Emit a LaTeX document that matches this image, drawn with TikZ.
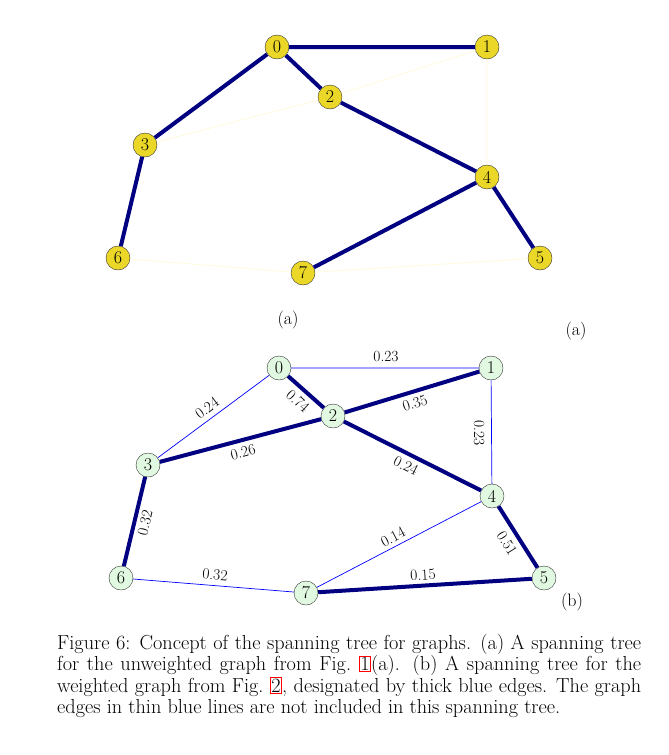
\documentclass[tikz,border=0pt]{standalone}
\usepackage{xcolor}
\definecolor{navy}{RGB}{0,0,128}
\definecolor{faint}{RGB}{255,250,220}
\definecolor{yel}{RGB}{235,215,40}
\definecolor{lgreen}{RGB}{225,248,225}
\begin{document}
\begin{tikzpicture}[x=1pt,y=-1pt,
  ya/.style={circle,draw=black!80,fill=yel,minimum size=24pt,inner sep=0pt,font=\fontsize{18}{18}\selectfont},
  gb/.style={circle,draw=black!80,fill=lgreen,minimum size=24pt,inner sep=0pt,font=\fontsize{18}{18}\selectfont},
  thk/.style={draw=navy,line width=4pt},
  thn/.style={draw=blue,line width=0.7pt},
  fnt/.style={draw=faint,line width=0.8pt},
  wl/.style={font=\fontsize{15.5}{15.5}\selectfont,inner sep=1pt}]
\useasboundingbox (0,0) rectangle (669,755);
% (a)
\node[ya] (a0) at (277,47) {0};
\node[ya] (a1) at (487,47) {1};
\node[ya] (a2) at (330,97) {2};
\node[ya] (a3) at (145,145) {3};
\node[ya] (a4) at (487,177) {4};
\node[ya] (a5) at (540,258) {5};
\node[ya] (a6) at (118,258) {6};
\node[ya] (a7) at (303,273) {7};
\path[fnt] (a1)--(a2) (a2)--(a3) (a1)--(a4) (a6)--(a7) (a7)--(a5);
\path[thk] (a0)--(a1) (a0)--(a2) (a0)--(a3) (a2)--(a4) (a3)--(a6) (a4)--(a7) (a4)--(a5);
\node[font=\fontsize{18}{18}\selectfont] (la) at (288,320) {(a)};
\node[font=\fontsize{18}{18}\selectfont] (la2) at (576,331) {(a)};
% (b)
\node[gb] (b0) at (279,368) {0};
\node[gb] (b1) at (491,368) {1};
\node[gb] (b2) at (333,416) {2};
\node[gb] (b3) at (148,465) {3};
\node[gb] (b4) at (492,496) {4};
\node[gb] (b5) at (544,578) {5};
\node[gb] (b6) at (121,578) {6};
\node[gb] (b7) at (306,593) {7};
\path[thn] (b0)--(b1) (b0)--(b3) (b1)--(b4) (b4)--(b7) (b6)--(b7);
\path[thk] (b0)--(b2) (b2)--(b1) (b3)--(b2) (b2)--(b4) (b3)--(b6) (b4)--(b5) (b7)--(b5);
\node[wl,fill=white] (w01) at (386,356) {0.23};
\node[wl,rotate=-42] (w02) at (298,401) {0.74};
\node[wl,rotate=17] (w21) at (415,403) {0.35};
\node[wl,rotate=36.5] (w03) at (207,408) {0.24};
\node[wl,rotate=14.8] (w32) at (243,452) {0.26};
\node[wl,rotate=-26.7] (w24) at (406,466) {0.24};
\node[wl,rotate=-90] (w14) at (479,433) {0.23};
\node[wl,rotate=77] (w36) at (145,523) {0.32};
\node[wl,rotate=-57.6] (w45) at (507,543) {0.51};
\node[wl,rotate=27.5] (w47) at (393,537) {0.14};
\node[wl,rotate=-4.6] (w67) at (215,575) {0.32};
\node[wl,rotate=3.6] (w75) at (423,575) {0.15};
\node[font=\fontsize{18}{18}\selectfont] (lb) at (572,602) {(b)};
% caption
\node[anchor=north west,inner sep=0pt,text width=584pt,align=justify,
  font=\fontsize{20.3}{21.3}\selectfont] (cap) at (57,634)
 {Figure 6: Concept of the spanning tree for graphs. (a) A spanning tree for the unweighted graph from Fig.~{\fboxsep=0.5pt\fboxrule=1pt\fcolorbox{red}{white}{1}}(a). (b) A spanning tree for the weighted graph from Fig.~{\fboxsep=0.5pt\fboxrule=1pt\fcolorbox{red}{white}{2}}, designated by thick blue edges. The graph edges in thin blue lines are not included in this spanning tree.};
\end{tikzpicture}
\end{document}
